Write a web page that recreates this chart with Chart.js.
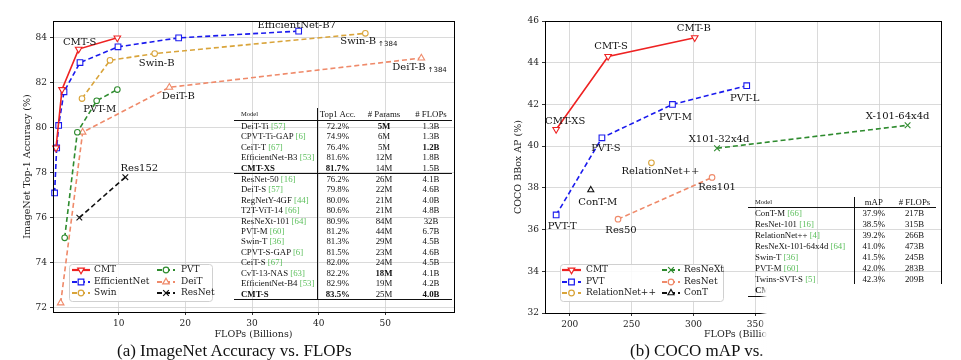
<!DOCTYPE html>
<html>
<head>
<meta charset="utf-8">
<script src="https://cdn.jsdelivr.net/npm/chart.js@4.4.1/dist/chart.umd.min.js"></script>
<style>
  body { margin: 0; background: #fff; }
  #fig { position: relative; width: 961px; height: 360px; overflow: hidden; background: #fff; }
  canvas { position: absolute; top: 0; }
  #chartA { left: 0; }
  #chartB { left: 480px; }
  .tbl { position: absolute; border-collapse: collapse; table-layout: fixed;
         font-family: 'Liberation Serif', serif; font-size: 8.8px; color: #111; }
  .tbl td, .tbl th { padding: 0; white-space: nowrap; text-align: center; font-weight: normal; overflow: hidden; }
  .tbl td:first-child, .tbl th:first-child { text-align: left; padding-left: 7px; }
  .tbl td:nth-child(2), .tbl th:nth-child(2) { border-left: 1px solid #111; }
  .tbl thead tr { border-bottom: 1px solid #111; }
  .tbl tr.sep { border-top: 1px solid #111; }
  .tbl tbody tr:last-child { border-bottom: 1px solid #111; }
  .tbl th.small { font-size: 6.5px; }
  .tbl td.b { font-weight: bold; }
  #tblA { left: 234px; top: 108px; }
  #tblA td { height: 10.4px; line-height: 10.4px; }
  #tblA th { height: 12px; line-height: 12px; }
  #tblB { left: 748px; top: 197px; }
  #tblB td { height: 11px; line-height: 11px; }
  #tblB th { height: 10px; line-height: 10px; }
  .ref { color: #5cbf5c; font-weight: normal; }
  .cap { position: absolute; top: 341px; line-height: 20px; font-family: 'Liberation Serif', serif;
         font-size: 17px; color: #111; white-space: nowrap; }
  #capA { left: 117px; }
  #capB { left: 630px; }
  #smudge { position: absolute; left: 760px; top: 284px; width: 201px; height: 76px;
            background: linear-gradient(to right, rgba(255,255,255,0) 0, #fff 7px); }
</style>
</head>
<body>
<div id="fig">
  <canvas id="chartA" width="480" height="360"></canvas>
  <canvas id="chartB" width="481" height="360"></canvas>
  <table id="tblA" class="tbl"></table>
  <table id="tblB" class="tbl"></table>
  <div id="capA" class="cap">(a) ImageNet Accuracy vs. FLOPs</div>
  <div id="capB" class="cap">(b) COCO mAP vs. FLOPs</div>
  <div id="smudge"></div>
</div>
<script>
// ---- (a) ImageNet top-1 vs FLOPs ----
const aXTicks = [10, 20, 30, 40, 50];
const aYTicks = [72, 74, 76, 78, 80, 82, 84];
const cmtFlops = [0.6, 1.5, 4.0, 9.8];
const cmtAcc = [79.1, 81.7, 83.5, 84.0];
const effFlops = [0.39, 0.7, 1.0, 1.8, 4.2, 9.9, 19.0, 37.0];
const effAcc = [77.1, 79.1, 80.1, 81.6, 82.9, 83.6, 84.0, 84.3];
const swinFlops = [4.5, 8.7, 15.4, 47.0];
const swinAcc = [81.3, 83.0, 83.3, 84.2];
const pvtFlops = [1.9, 3.8, 6.7, 9.8];
const pvtAcc = [75.1, 79.8, 81.2, 81.7];
const deitFlops = [1.3, 4.6, 17.6, 55.4];
const deitAcc = [72.2, 79.8, 81.8, 83.1];
const resFlops = [4.1, 11.0];
const resAcc = [76.0, 77.8];

// ---- (b) COCO box AP vs FLOPs ----
const bXTicks = [200, 250, 300, 350, 400, 450];
const bYTicks = [32, 34, 36, 38, 40, 42, 44, 46];
const cmtDetFlops = [189, 231, 301];
const cmtDetAP = [40.8, 44.3, 45.2];
const pvtDetFlops = [189, 226, 283, 343];
const pvtDetAP = [36.7, 40.4, 42.0, 42.9];
const relFlops = [266];
const relAP = [39.2];
const rxtFlops = [319, 473];
const rxtAP = [39.9, 41.0];
const resDetFlops = [239, 315];
const resDetAP = [36.5, 38.5];
const contFlops = [217];
const contAP = [37.9];

// ---- tables ----
const accHead = ['Model', 'Top1 Acc.', '# Params', '# FLOPs'];
const accModels = ['DeiT-Ti', 'CPVT-Ti-GAP', 'CeiT-T', 'EfficientNet-B3', 'CMT-XS',
  'ResNet-50', 'DeiT-S', 'RegNetY-4GF', 'T2T-ViT-14', 'ResNeXt-101', 'PVT-M', 'Swin-T',
  'CPVT-S-GAP', 'CeiT-S', 'CvT-13-NAS', 'EfficientNet-B4', 'CMT-S'];
const accRefs = [57, 6, 67, 53, null, 16, 57, 44, 66, 64, 60, 36, 6, 67, 63, 53, null];
const accTop1 = ['72.2%', '74.9%', '76.4%', '81.6%', '81.7%', '76.2%', '79.8%', '80.0%', '80.6%',
  '80.9%', '81.2%', '81.3%', '81.5%', '82.0%', '82.2%', '82.9%', '83.5%'];
const accParams = ['5M', '6M', '5M', '12M', '14M', '26M', '22M', '21M', '21M', '84M', '44M',
  '29M', '23M', '24M', '18M', '19M', '25M'];
const accFlopsCol = ['1.3B', '1.3B', '1.2B', '1.8B', '1.5B', '4.1B', '4.6B', '4.0B', '4.8B', '32B',
  '6.7B', '4.5B', '4.6B', '4.5B', '4.1B', '4.2B', '4.0B'];
const accBold = ['0:2', '2:3', '4:0', '4:1', '14:2', '16:0', '16:1', '16:3'];

const detHead = ['Model', 'mAP', '# FLOPs'];
const detModels = ['ConT-M', 'ResNet-101', 'RelationNet++', 'ResNeXt-101-64x4d', 'Swin-T',
  'PVT-M', 'Twins-SVT-S', 'CMT-S'];
const detRefs = [66, 16, 4, 64, 36, 60, 5, null];
const detMAP = ['37.9%', '38.5%', '39.2%', '41.0%', '41.5%', '42.0%', '42.3%', '44.3%'];
const detFlopsCol = ['217B', '315B', '266B', '473B', '245B', '283B', '209B', '231B'];
const detBold = ['7:0', '7:1', '7:2'];

function fillTable(id, head, widths, cols, refs, bold, sepRow) {
  const t = document.getElementById(id);
  let html = '<colgroup>' + widths.map(w => `<col style="width:${w}px">`).join('') + '</colgroup>';
  html += '<thead><tr>' + head.map((h, i) => `<th class="${i === 0 ? 'small' : ''}">${h}</th>`).join('') + '</tr></thead><tbody>';
  cols[0].forEach((_, r) => {
    html += `<tr class="${r === sepRow ? 'sep' : ''}">`;
    cols.forEach((col, c) => {
      let txt = col[r];
      if (c === 0 && refs[r] != null) txt += ` <span class="ref">[${refs[r]}]</span>`;
      html += `<td class="${bold.includes(r + ':' + c) ? 'b' : ''}">${txt}</td>`;
    });
    html += '</tr>';
  });
  t.innerHTML = html + '</tbody>';
}
fillTable('tblA', accHead, [83, 41, 52, 42], [accModels, accTop1, accParams, accFlopsCol], accRefs, accBold, 5);
fillTable('tblB', detHead, [106, 39, 43], [detModels, detMAP, detFlopsCol], detRefs, detBold, -1);

// ---- chart helpers ----
Chart.defaults.font.family = "'DejaVu Serif', serif";
Chart.defaults.color = '#222';
Chart.defaults.animation = false;

const RED = '#ee2222', BLUE = '#1a1aee', GOLD = '#d9a43a', GREEN = '#2e8b2e', SALMON = '#ef8a6a', BLACK = '#111';

function pts(xs, ys) { return xs.map((v, i) => ({ x: v, y: ys[i] })); }

function series(label, xs, ys, color, style, radius, extra) {
  return Object.assign({
    label, data: pts(xs, ys), showLine: true, clip: false,
    borderColor: color, backgroundColor: '#fff', borderWidth: 1.6, borderDash: [5, 3],
    pointStyle: style, pointRadius: radius, pointHoverRadius: radius, pointBorderColor: color,
    pointBackgroundColor: '#fff', pointBorderWidth: 1.1
  }, extra || {});
}

function drawMarker(ctx, style, x, y, r, rot) {
  ctx.beginPath();
  if (style === 'circle') {
    ctx.arc(x, y, r, 0, Math.PI * 2);
  } else if (style === 'rect') {
    const s = r * Math.SQRT1_2;
    ctx.rect(x - s, y - s, 2 * s, 2 * s);
  } else if (style === 'triangle') {
    let a = (rot || 0) * Math.PI / 180;
    for (let k = 0; k < 3; k++) {
      const px = x + Math.sin(a) * r, py = y - Math.cos(a) * r;
      if (k) ctx.lineTo(px, py); else ctx.moveTo(px, py);
      a += 2 * Math.PI / 3;
    }
    ctx.closePath();
  } else if (style === 'crossRot') {
    const s = r * Math.SQRT1_2;
    ctx.moveTo(x - s, y - s); ctx.lineTo(x + s, y + s);
    ctx.moveTo(x + s, y - s); ctx.lineTo(x - s, y + s);
  }
  if (style !== 'crossRot') ctx.fill();
  ctx.stroke();
}

// frame box, point labels and an in-plot legend
const extras = {
  id: 'extras',
  afterDraw(chart, args, opts) {
    const { ctx, chartArea: a, scales: { x, y } } = chart;
    ctx.save();
    ctx.strokeStyle = '#000';
    ctx.lineWidth = 1;
    const l = Math.floor(a.left) + 0.5, t = Math.floor(a.top) + 0.5;
    ctx.strokeRect(l, t, Math.floor(a.right) - Math.floor(a.left), Math.floor(a.bottom) - Math.floor(a.top));

    ctx.fillStyle = '#111';
    ctx.textBaseline = 'middle';
    opts.notes.forEach(n => {
      const p = chart.data.datasets[n.ds].data[n.i];
      const px = x.getPixelForValue(p.x) + n.dx;
      const py = y.getPixelForValue(p.y) + n.dy;
      ctx.font = "10px 'DejaVu Serif'";
      ctx.textAlign = n.sub ? 'left' : 'center';
      ctx.fillText(n.text, px, py);
      if (n.sub) {
        const w = ctx.measureText(n.text).width;
        ctx.font = "7px 'DejaVu Sans'";
        ctx.fillText(n.sub, px + w + 2, py + 3);
      }
    });

    const lg = opts.legend;
    const [bx, by, bw, bh] = lg.box;
    ctx.beginPath();
    ctx.roundRect(bx + 0.5, by + 0.5, bw, bh, 3);
    ctx.fillStyle = 'rgba(255,255,255,0.85)';
    ctx.fill();
    ctx.strokeStyle = '#d0d0d0';
    ctx.stroke();
    lg.order.forEach((col, c) => {
      const cx = lg.cols[c];
      col.forEach((dsIdx, r) => {
        const ds = chart.data.datasets[dsIdx];
        const ry = lg.rows[r];
        ctx.strokeStyle = ds.borderColor;
        ctx.lineWidth = 2.2;
        ctx.setLineDash(ds.borderDash || []);
        ctx.beginPath();
        ctx.moveTo(cx.x0, ry); ctx.lineTo(cx.x1, ry);
        ctx.stroke();
        ctx.setLineDash([]);
        ctx.lineWidth = 1.2;
        ctx.fillStyle = '#fff';
        drawMarker(ctx, ds.pointStyle, (cx.x0 + cx.x1) / 2, ry, ds.pointRadius, ds.pointRotation);
        ctx.fillStyle = '#222';
        ctx.font = "9px 'DejaVu Serif'";
        ctx.textAlign = 'left';
        ctx.fillText(ds.label, cx.tx, ry);
      });
    });
    ctx.restore();
  }
};

function axes(xMin, xMax, xTicks, xH, yMin, yMax, yTicks, yTitle, yW, yPad) {
  const grid = { color: '#d0d0d0', lineWidth: 0.8, tickColor: '#000', tickLength: 3 };
  return {
    x: {
      type: 'linear', min: xMin, max: xMax,
      afterBuildTicks: s => { s.ticks = xTicks.map(v => ({ value: v })); },
      afterFit: s => { s.height = xH; },
      grid, border: { color: '#000', width: 1 },
      ticks: { font: { size: 9 }, color: '#222', padding: 3, maxRotation: 0 },
      title: { display: true, text: 'FLOPs (Billions)', font: { size: 9.5 }, color: '#222', padding: 0 }
    },
    y: {
      min: yMin, max: yMax,
      afterBuildTicks: s => { s.ticks = yTicks.map(v => ({ value: v })); },
      afterFit: s => { s.width = yW; },
      grid, border: { color: '#000', width: 1 },
      ticks: { font: { size: 9 }, color: '#222', padding: 3 },
      title: { display: true, text: yTitle, font: { size: 9.5 }, color: '#222', padding: { top: yPad } }
    }
  };
}

new Chart(document.getElementById('chartA'), {
  type: 'scatter',
  data: {
    datasets: [
      series('CMT', cmtFlops, cmtAcc, RED, 'triangle', 3.8, { borderDash: [], pointRotation: 180 }),
      series('EfficientNet', effFlops, effAcc, BLUE, 'rect', 4),
      series('Swin', swinFlops, swinAcc, GOLD, 'circle', 2.8),
      series('PVT', pvtFlops, pvtAcc, GREEN, 'circle', 2.8),
      series('DeiT', deitFlops, deitAcc, SALMON, 'triangle', 3.8),
      series('ResNet', resFlops, resAcc, BLACK, 'crossRot', 4)
    ]
  },
  options: {
    responsive: false,
    layout: { padding: { top: 21, right: 26, bottom: 20, left: 0 } },
    scales: axes(0.15, 60.3, aXTicks, 28, 71.8, 84.75, aYTicks, 'ImageNet Top-1 Accuracy (%)', 53, 22),
    plugins: {
      legend: { display: false },
      tooltip: { enabled: false },
      extras: {
        notes: [
          { ds: 0, i: 2, text: 'CMT-S', dx: 1, dy: -7 },
          { ds: 1, i: 7, text: 'EfficientNet-B7', dx: -2, dy: -6 },
          { ds: 2, i: 2, text: 'Swin-B', dx: 2, dy: 10 },
          { ds: 2, i: 3, text: 'Swin-B', sub: '↑384', dx: -25, dy: 8 },
          { ds: 4, i: 2, text: 'DeiT-B', dx: 9, dy: 9 },
          { ds: 4, i: 3, text: 'DeiT-B', sub: '↑384', dx: -29, dy: 9 },
          { ds: 3, i: 2, text: 'PVT-M', dx: 3, dy: 9 },
          { ds: 5, i: 1, text: 'Res152', dx: 14, dy: -9 }
        ],
        legend: {
          box: [69, 264, 143, 37],
          rows: [270, 282, 293],
          cols: [{ x0: 72, x1: 90, tx: 94 }, { x0: 157, x1: 175, tx: 181 }],
          order: [[0, 1, 2], [3, 4, 5]]
        }
      }
    }
  },
  plugins: [extras]
});

new Chart(document.getElementById('chartB'), {
  type: 'scatter',
  data: {
    datasets: [
      series('CMT', cmtDetFlops, cmtDetAP, RED, 'triangle', 3.8, { borderDash: [], pointRotation: 180 }),
      series('PVT', pvtDetFlops, pvtDetAP, BLUE, 'rect', 4),
      series('RelationNet++', relFlops, relAP, GOLD, 'circle', 2.8),
      series('ResNeXt', rxtFlops, rxtAP, GREEN, 'crossRot', 4),
      series('ResNet', resDetFlops, resDetAP, SALMON, 'circle', 2.8),
      series('ConT', contFlops, contAP, BLACK, 'triangle', 3.5)
    ]
  },
  options: {
    responsive: false,
    layout: { padding: { top: 21, right: 20, bottom: 20, left: 0 } },
    scales: axes(180, 500, bXTicks, 27, 32, 46, bYTicks, 'COCO BBox AP (%)', 65, 33),
    plugins: {
      legend: { display: false },
      tooltip: { enabled: false },
      extras: {
        notes: [
          { ds: 0, i: 0, text: 'CMT-XS', dx: 9, dy: -8 },
          { ds: 0, i: 1, text: 'CMT-S', dx: 3, dy: -10 },
          { ds: 0, i: 2, text: 'CMT-B', dx: -1, dy: -9 },
          { ds: 1, i: 0, text: 'PVT-T', dx: 6, dy: 11 },
          { ds: 1, i: 1, text: 'PVT-S', dx: 4, dy: 11 },
          { ds: 1, i: 2, text: 'PVT-M', dx: 3, dy: 13 },
          { ds: 1, i: 3, text: 'PVT-L', dx: -2, dy: 13 },
          { ds: 2, i: 0, text: 'RelationNet++', dx: 9, dy: 9 },
          { ds: 3, i: 0, text: 'X101-32x4d', dx: 2, dy: -9 },
          { ds: 3, i: 1, text: 'X-101-64x4d', dx: -10, dy: -9 },
          { ds: 4, i: 0, text: 'Res50', dx: 3, dy: 11 },
          { ds: 4, i: 1, text: 'Res101', dx: 5, dy: 10 },
          { ds: 5, i: 0, text: 'ConT-M', dx: 7, dy: 12 }
        ],
        legend: {
          box: [80, 264, 163, 37],
          rows: [270, 282, 293],
          cols: [{ x0: 82, x1: 101, tx: 106 }, { x0: 182, x1: 200, tx: 204 }],
          order: [[0, 1, 2], [3, 4, 5]]
        }
      }
    }
  },
  plugins: [extras]
});
</script>
</body>
</html>
